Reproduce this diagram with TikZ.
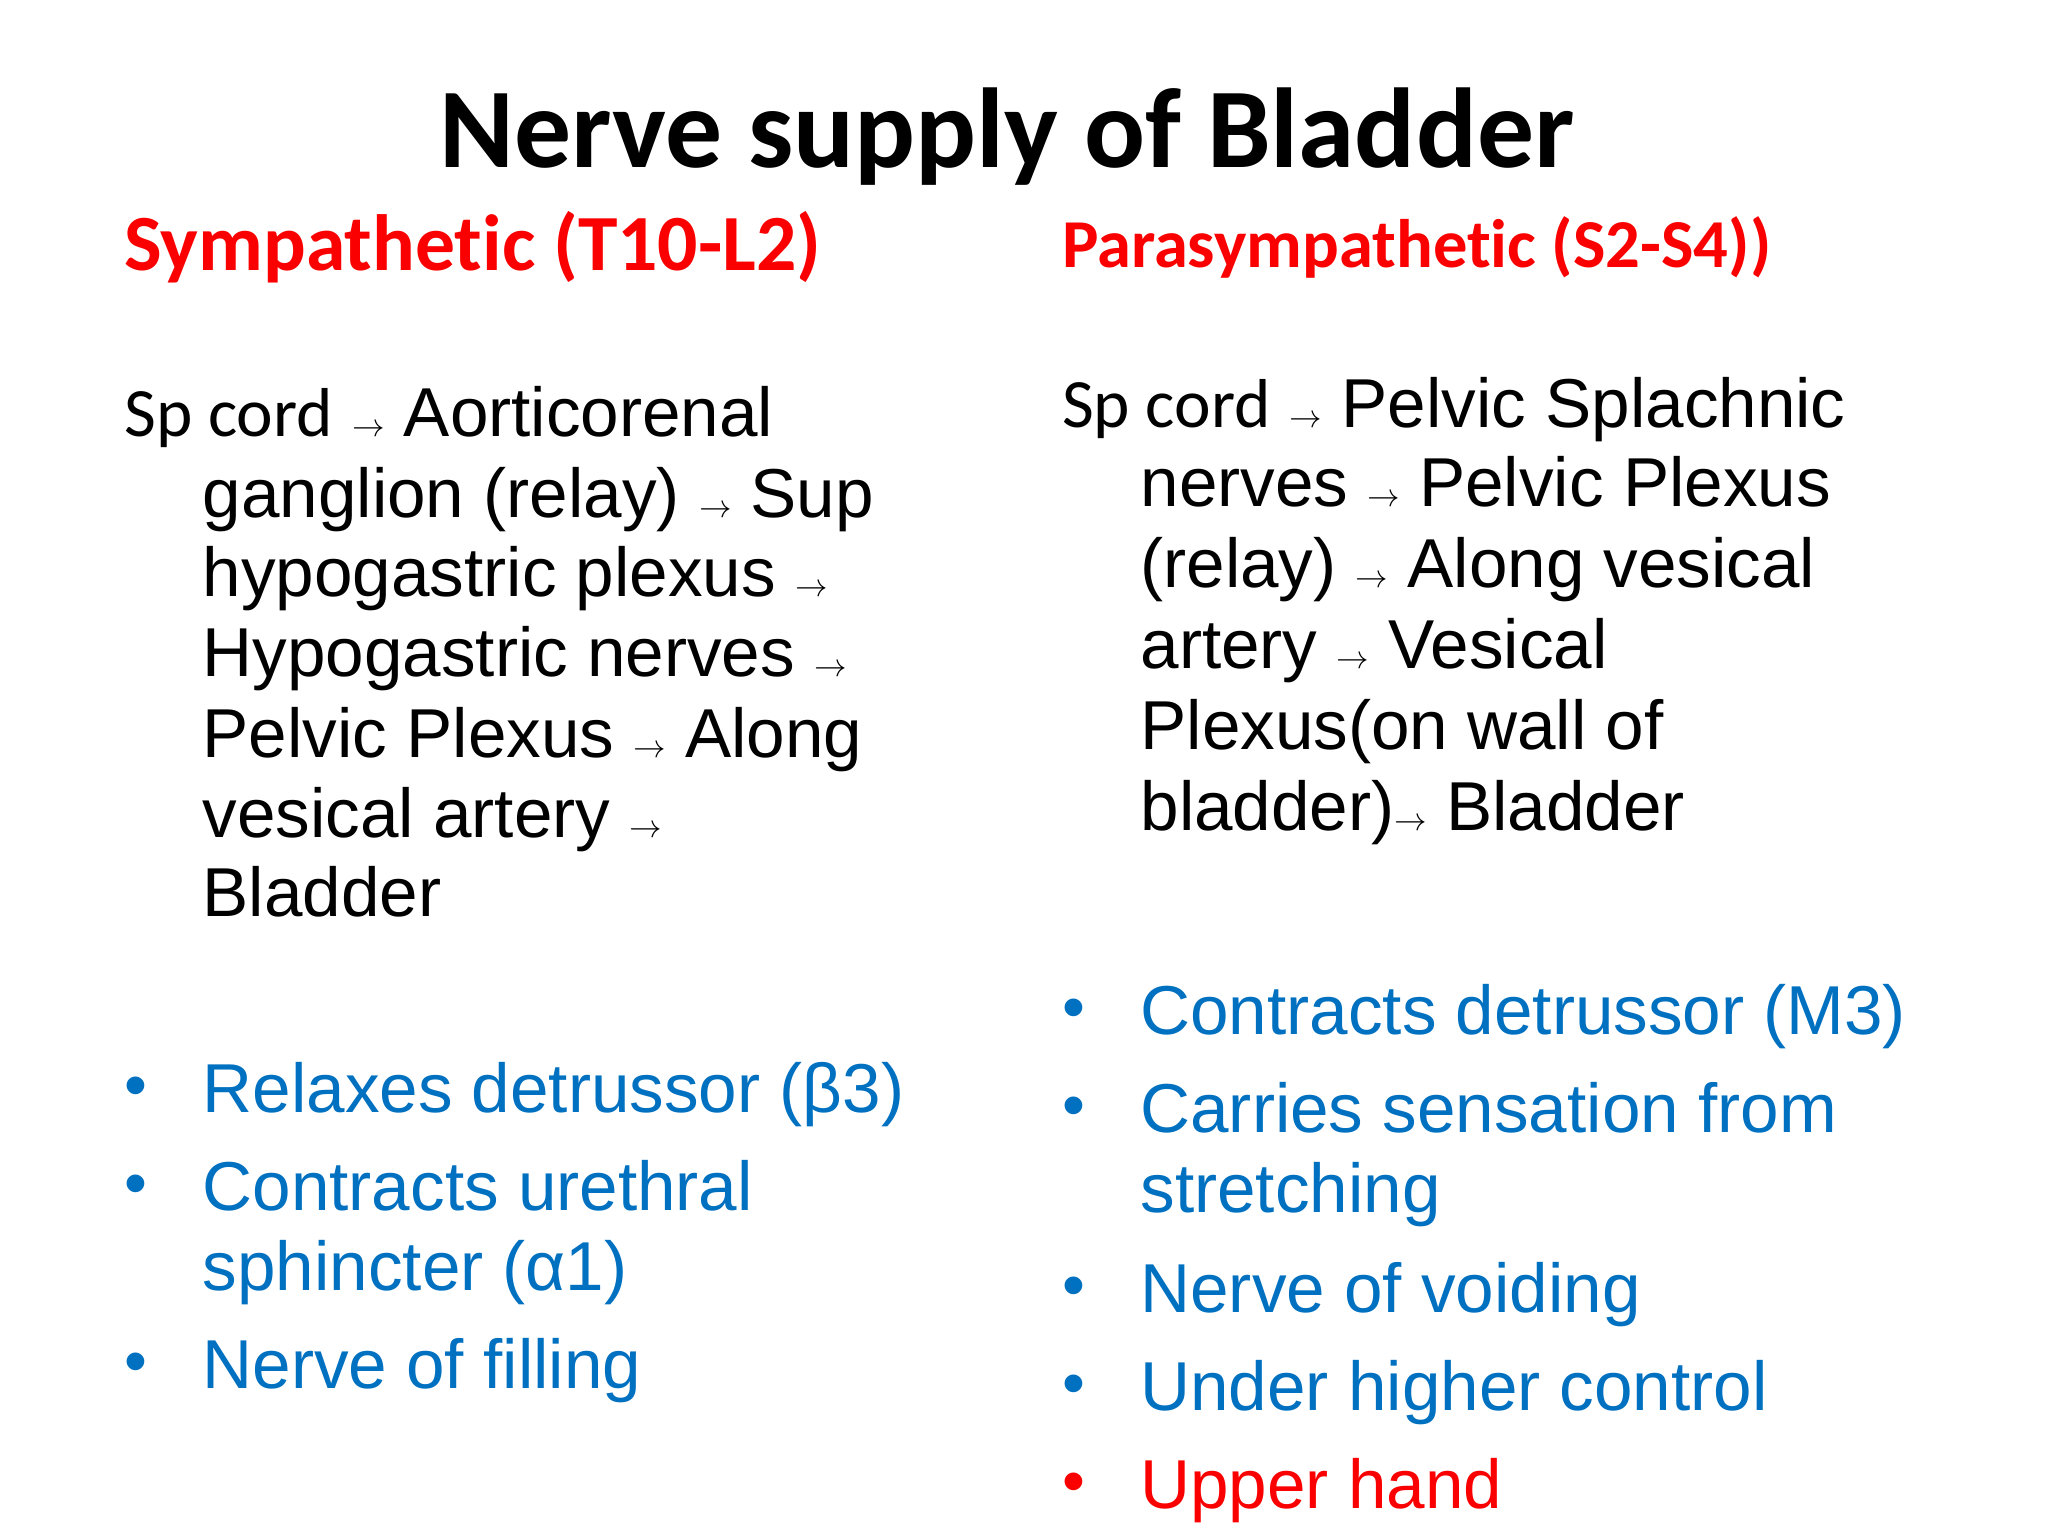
\documentclass[tikz,border=0pt]{standalone}
\usepackage{fontspec}
\setmainfont{Liberation Sans}
\newfontfamily\calfont[Ligatures={NoCommon}]{Carlito}
\definecolor{tblue}{RGB}{0,112,192}
\definecolor{tred}{RGB}{250,0,0}
\newcommand{\arr}{\ensuremath{\rightarrow}}
\begin{document}
\begin{tikzpicture}[x=1pt,y=-1pt,
 t/.style={anchor=base west,inner sep=0pt,font=\fontsize{53}{60}\selectfont},
 b/.style={t,text=tblue},
 r/.style={t,text=tred},
 bul/.style={anchor=base west,inner sep=0pt,font=\fontsize{50}{50}\selectfont}]
\useasboundingbox (0,0) rectangle (1568,1176);
\fill[white] (0,0) rectangle (1568,1176);
\node[anchor=base,inner sep=0pt,font=\calfont\bfseries\fontsize{87}{87}\selectfont] (title) at (771,128) {Nerve supply of Bladder};
\node[anchor=base west,inner sep=0pt,text=tred,font=\calfont\bfseries\fontsize{61}{61}\selectfont] (sh) at (95,207) {Sympathetic (T10-L2)};
\node[anchor=base west,inner sep=0pt,text=tred,font=\calfont\bfseries\fontsize{52.5}{52}\selectfont] (ph) at (813,205) {Parasympathetic (S2-S4))};
% left body
\node[t] (l1) at (95,334) {{\calfont Sp cord} \arr{} Aorticorenal};
\node[t] (l2) at (155,396) {ganglion (relay) \arr{} Sup};
\node[t] (l3) at (155,457) {hypogastric plexus \arr};
\node[t] (l4) at (155,518) {Hypogastric nerves \arr};
\node[t] (l5) at (155,580) {Pelvic Plexus \arr{} Along};
\node[t] (l6) at (155,641) {vesical artery \arr};
\node[t] (l7) at (155,702) {Bladder};
% right body
\node[t] (r1) at (813,327) {{\calfont Sp cord} \arr{} Pelvic Splachnic};
\node[t] (r2) at (873,388) {nerves \arr{} Pelvic Plexus};
\node[t] (r3) at (873,450) {(relay) \arr{} Along vesical};
\node[t] (r4) at (873,512) {artery \arr{} Vesical};
\node[t] (r5) at (873,574) {Plexus(on wall of};
\node[t] (r6) at (873,636) {bladder)\arr{} Bladder};
% left bullets
\foreach \y in {852,927,1063} \node[bul,text=tblue] at (95,\y-4) {•};
\node[b] (lb1) at (155,852) {Relaxes detrussor (β3)};
\node[b] (lb2) at (155,927) {Contracts urethral};
\node[b] (lb3) at (155,988) {sphincter (α1)};
\node[b] (lb4) at (155,1063) {Nerve of filling};
% right bullets
\foreach \y in {792,867,1005,1080} \node[bul,text=tblue] at (813,\y-4) {•};
\node[bul,text=tred] at (813,1151) {•};
\node[b] (rb1) at (873,792) {Contracts detrussor (M3)};
\node[b] (rb2) at (873,867) {Carries sensation from};
\node[b] (rb3) at (873,928) {stretching};
\node[b] (rb4) at (873,1005) {Nerve of voiding};
\node[b] (rb5) at (873,1080) {Under higher control};
\node[r] (rb6) at (873,1155) {Upper hand};
\end{tikzpicture}
\end{document}
